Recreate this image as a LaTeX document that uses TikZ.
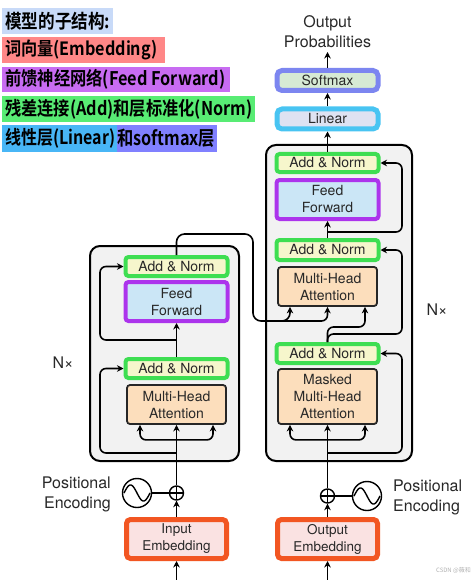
\documentclass[tikz,border=0pt]{standalone}
\usepackage{fontspec}
\usepackage{graphicx}
\setmainfont{TeX Gyre Heros}
\newfontfamily\cjk{Noto Sans CJK SC}[BoldFont={Noto Sans CJK SC Bold}]
\usetikzlibrary{arrows.meta}

\definecolor{anGreen}{RGB}{62,222,82}
\definecolor{anFill}{RGB}{246,246,204}
\definecolor{ffPurple}{RGB}{172,52,236}
\definecolor{ffFill}{RGB}{203,230,246}
\definecolor{mhaFill}{RGB}{252,222,188}
\definecolor{smBlue}{RGB}{124,134,240}
\definecolor{smFill}{RGB}{214,234,212}
\definecolor{linBlue}{RGB}{72,196,242}
\definecolor{linFill}{RGB}{222,226,242}
\definecolor{embRed}{RGB}{242,86,34}
\definecolor{embFill}{RGB}{250,226,226}
\definecolor{blockFill}{RGB}{242,242,242}
\definecolor{txt}{RGB}{40,40,40}
\definecolor{lgTitle}{RGB}{200,218,248}
\definecolor{lgEmb}{RGB}{255,135,135}
\definecolor{lgFF}{RGB}{200,108,242}
\definecolor{lgAN}{RGB}{88,236,116}
\definecolor{lgLin}{RGB}{72,182,246}
\definecolor{lgSm}{RGB}{128,128,255}

\begin{document}
\begin{tikzpicture}[x=1pt,y=-1pt,
  lbl/.style={font=\fontsize{14}{17}\selectfont, text=txt, align=center, inner sep=0pt},
  anbox/.style={lbl, draw=anGreen, line width=4pt, fill=anFill, rounded corners=3pt, minimum width=102pt},
  ffbox/.style={lbl, draw=ffPurple, line width=4pt, fill=ffFill, rounded corners=3pt, minimum width=102pt},
  mhabox/.style={lbl, draw=black!85, line width=1.8pt, fill=mhaFill, rounded corners=3pt, minimum width=99pt},
  topbox/.style={lbl, line width=5pt, rounded corners=5pt, minimum width=101pt, minimum height=20pt},
  embbox/.style={lbl, draw=embRed, fill=embFill, line width=5pt, rounded corners=4pt, minimum width=100pt, minimum height=39pt, font=\fontsize{13.5}{17}\selectfont},
  block/.style={draw=black, line width=2pt, fill=blockFill, rounded corners=10pt, inner sep=0pt},
  conn/.style={draw=black, line width=1.6pt},
  arr/.style={conn, -{Stealth[length=6.5pt,width=6.5pt]}},
  darr/.style={conn, {Stealth[length=6.5pt,width=6.5pt]}-{Stealth[length=6.5pt,width=6.5pt]}},
  rc/.style={rounded corners=6pt},
  plus/.style={circle, draw=black, line width=1.4pt, fill=white, minimum size=14pt, inner sep=0pt,
    path picture={\draw[line width=1.2pt] (path picture bounding box.north) -- (path picture bounding box.south)
      (path picture bounding box.west) -- (path picture bounding box.east);}},
  sine/.style={circle, draw=black, line width=1.4pt, fill=white, minimum size=29pt, inner sep=0pt},
  wave/.style={line width=1.4pt},
  big/.style={font=\fontsize{16}{20}\selectfont, text=txt, inner sep=0pt},
  leg/.style={anchor=west, inner sep=0pt, text=black, font=\cjk\bfseries},
]
\useasboundingbox (0,0) rectangle (474,580);

% legend
\node[leg, fill=lgTitle, minimum height=26pt] (lg1) at (2,21)
  {\hbox to 111pt{\hspace{3pt}\resizebox*{105pt}{18pt}{模型的子结构:}\hss}};
\node[leg, fill=lgEmb, minimum height=26pt] (lg2) at (2,50)
  {\hbox to 163pt{\hspace{3pt}\resizebox*{152pt}{20pt}{词向量(Embedding)}\hss}};
\node[leg, fill=lgFF, minimum height=25pt] (lg3) at (2,79.5)
  {\hbox to 228pt{\hspace{3pt}\resizebox*{220pt}{20pt}{前馈神经网络(Feed Forward)}\hss}};
\node[leg, fill=lgAN, minimum height=26pt] (lg4) at (2,109)
  {\hbox to 253pt{\hspace{3pt}\resizebox*{247pt}{20pt}{残差连接(Add)和层标准化(Norm)}\hss}};
\node[leg, fill=lgLin, minimum height=27pt] (lg5a) at (2,138.5)
  {\hbox to 115pt{\hspace{3pt}\resizebox*{110pt}{20pt}{线性层(Linear)}\hss}};
\node[leg, fill=lgSm, minimum height=27pt] (lg5b) at (117,138.5)
  {\hbox to 100pt{\resizebox*{98pt}{18.5pt}{和softmax层}\hss}};

% blocks
\node[block, minimum width=149pt, minimum height=215pt] (encBlock) at (164.5,353.5) {};
\node[block, minimum width=146pt, minimum height=316pt] (decBlock) at (339,303) {};

% encoder
\node[anbox, minimum height=19pt] (encAN2) at (176.5,266.5) {Add \& Norm};
\node[ffbox, minimum height=39pt] (encFF) at (176.5,301.5) {Feed\\Forward};
\node[anbox, minimum height=19pt] (encAN1) at (176.5,368.5) {Add \& Norm};
\node[mhabox, minimum height=39pt] (encMHA) at (176.5,404.5) {Multi-Head\\Attention};

% decoder
\node[anbox, minimum height=18pt] (decAN3) at (327.5,163) {Add \& Norm};
\node[ffbox, minimum height=39pt] (decFF) at (327.5,199.5) {Feed\\Forward};
\node[anbox, minimum height=20pt] (decAN2) at (327.5,250) {Add \& Norm};
\node[mhabox, minimum height=39pt] (decMHA2) at (327.5,286.5) {Multi-Head\\Attention};
\node[anbox, minimum height=19pt] (decAN1) at (327.5,353.5) {Add \& Norm};
\node[mhabox, minimum height=55pt] (decMHA1) at (327.5,396.5) {Masked\\Multi-Head\\Attention};

% top
\node[topbox, draw=linBlue, fill=linFill] (linear) at (327.5,119) {Linear};
\node[topbox, draw=smBlue, fill=smFill] (softmax) at (327.5,80.5) {Softmax};
\node[big, align=center, anchor=south, inner ysep=4pt] (outProb) at (327.5,52) {Output\\Probabilities};

% bottom
\node[embbox] (inEmb) at (176.5,539) {Input\\Embedding};
\node[embbox] (outEmb) at (327.5,539) {Output\\Embedding};
\node[plus] (plusL) at (176.5,493) {};
\node[sine] (sineL) at (137,493) {};
\node[plus] (plusR) at (327.5,496) {};
\node[sine] (sineR) at (367,496) {};
\node[big, align=right, anchor=east] (posL) at (111,494) {Positional\\Encoding};
\node[big, align=left, anchor=west] (posR) at (393,497) {Positional\\Encoding};
\node[big] (nxL) at (63,363) {N×};
\node[big] (nxR) at (437,310) {N×};
\node[font=\cjk\fontsize{6}{7}\selectfont, text=black!30, anchor=east, inner sep=0pt] (wm) at (471,570) {CSDN @薇和};
\coordinate (inL) at (176.5,580);
\coordinate (inR) at (327.5,580);

% sine waves
\draw[wave, shift={(sineL.center)}] plot[domain=-13:13, samples=50, smooth] (\x,{8*sin(180/13*\x)});
\draw[wave, shift={(sineR.center)}] plot[domain=-13:13, samples=50, smooth] (\x,{8*sin(180/13*\x)});

% encoder connectors
\draw[arr] (inL) -- (inEmb.south);
\draw[arr] (inEmb.north) -- (plusL.south);
\draw[conn] (sineL.east) -- (plusL.west);
\draw[arr] (plusL.north) -- (encMHA.south);
\draw[darr, rc] ([xshift=-36.5pt]encMHA.south) -- ++(0,15) -- ++(73,0) -- ++(0,-15);
\coordinate (eR1) at (176.5,453);
\draw[arr, rc] (eR1) -- (100,453) -- (100,368.5) -- (encAN1.west);
\draw[arr] (encAN1.north) -- (encFF.south);
\coordinate (eR2) at (176.5,340);
\draw[arr, rc] (eR2) -- (100,340) -- (100,266.5) -- (encAN2.west);

% encoder output to decoder
\draw[arr, rounded corners=8pt] (encAN2.north) -- (176.5,234) -- (253,234) -- (253,321) -- (290,321) -- ([xshift=-37.5pt]decMHA2.south);
\coordinate (eK) at (275,321);
\draw[arr, rc] (eK) -- (327.5,321) -- (decMHA2.south);

% decoder connectors
\draw[arr] (inR) -- (outEmb.south);
\draw[arr] (outEmb.north) -- (plusR.south);
\draw[conn] (sineR.west) -- (plusR.east);
\draw[arr] (plusR.north) -- (decMHA1.south);
\draw[darr, rc] ([xshift=-37.5pt]decMHA1.south) -- ++(0,15) -- ++(75,0) -- ++(0,-15);
\coordinate (dR1) at (327.5,453);
\draw[arr, rc] (dR1) -- (402,453) -- (402,353.5) -- (decAN1.east);
\draw[arr, rc] (decAN1.north) -- (327.5,327) -- (365,327) -- ([xshift=37.5pt]decMHA2.south);
\draw[arr, rc] (decAN1.north) -- (327.5,334) -- (402,334) -- (402,250) -- (decAN2.east);
\draw[arr] (decAN2.north) -- (decFF.south);
\coordinate (dR3) at (327.5,232);
\draw[arr, rc] (dR3) -- (402,232) -- (402,163) -- (decAN3.east);
\draw[arr] (decAN3.north) -- (linear.south);
\draw[arr] (linear.north) -- (softmax.south);
\draw[arr] (softmax.north) -- (outProb.south);
\end{tikzpicture}
\end{document}
